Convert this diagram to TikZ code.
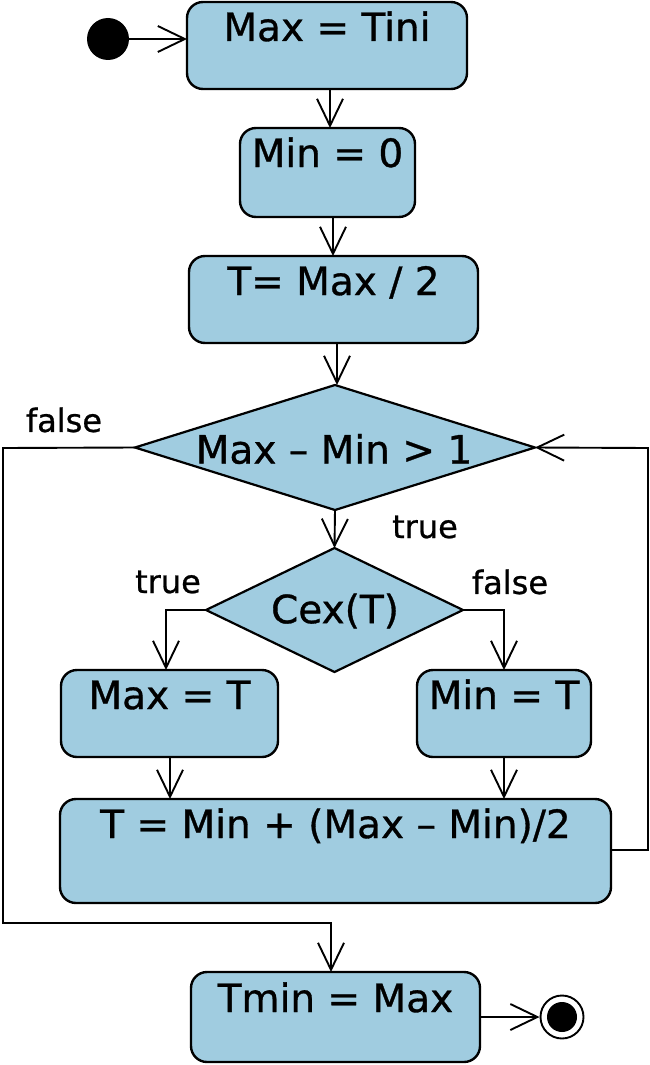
\documentclass[tikz,border=0pt]{standalone}
\usepackage{fontspec}
\setmainfont{DejaVu Sans}
\newfontfamily\diagfont{DejaVu Sans}[FakeBold=0.8]
\usetikzlibrary{arrows.meta,shapes.geometric,calc}
\definecolor{boxblue}{HTML}{A0CCE0}
\begin{document}
\begin{tikzpicture}[x=1pt,y=-1pt,
  actbox/.style={draw=black, line width=2.4pt, fill=boxblue, rounded corners=16pt,
    inner sep=0pt, outer sep=0pt},
  decision/.style={diamond, draw=black, line width=2.2pt, fill=boxblue,
    inner sep=0pt, outer sep=0pt},
  txt/.style={font=\diagfont\fontsize{39}{44}\selectfont, inner sep=0pt},
  lbl/.style={font=\diagfont\fontsize{32}{38}\selectfont, inner sep=0pt},
  arr/.style={line width=1.9pt, -{Straight Barb[length=27pt,width=26pt,line width=1.9pt]}},
]
\fill[white] (0,0) rectangle (650,1065);
\useasboundingbox (0,0) rectangle (650,1065);

% initial and final
\node[circle, fill=black, minimum size=42pt, inner sep=0pt] (start) at (108,39) {};
\node[circle, draw=black, line width=1.9pt, fill=white, minimum size=43pt, inner sep=0pt] (final) at (562,1017) {};
\node[circle, fill=black, minimum size=30pt, inner sep=0pt] (finaldot) at (final.center) {};

% action boxes
\node[actbox, minimum width=280pt, minimum height=87pt] (b1) at (327,45.5) {};
\node[actbox, minimum width=175pt, minimum height=89pt] (b2) at (327.5,172.5) {};
\node[actbox, minimum width=289pt, minimum height=87pt] (b3) at (333.5,299.5) {};
\node[actbox, minimum width=217pt, minimum height=87pt] (b4) at (169.5,713.5) {};
\node[actbox, minimum width=174pt, minimum height=87pt] (b5) at (504,713.5) {};
\node[actbox, minimum width=551pt, minimum height=104pt] (b6) at (335.5,851) {};
\node[actbox, minimum width=289pt, minimum height=90pt] (b7) at (335.5,1017) {};

\node[txt, anchor=base] (t1) at ($(b1.north)+(0,39)$) {Max = Tini};
\node[txt, anchor=base] (t2) at ($(b2.north)+(0,39)$) {Min = 0};
\node[txt, anchor=base] (t3) at ($(b3.north)+(0,39)$) {T= Max / 2};
\node[txt, anchor=base] (t4) at ($(b4.north)+(0,39)$) {Max = T};
\node[txt, anchor=base] (t5) at ($(b5.north)+(0,39)$) {Min = T};
\node[txt, anchor=base] (t6) at ($(b6.north)+(0,39)$) {T = Min + (Max – Min)/2};
\node[txt, anchor=base] (t7) at ($(b7.north)+(0,40)$) {Tmin = Max};

% decisions
\node[decision, minimum width=400pt, minimum height=125pt] (d1) at (335,447.5) {};
\node[txt] (dt1) at (334,449) {Max – Min > 1};
\node[decision, minimum width=257pt, minimum height=124pt] (d2) at (334.5,610) {};
\node[txt] (dt2) at (335,611) {Cex(T)};

% guard labels
\node[lbl] (lfalse1) at (64,420) {false};
\node[lbl] (ltrue1) at (425,527) {true};
\node[lbl] (ltrue2) at (168,582) {true};
\node[lbl] (lfalse2) at (510,582) {false};

% connectors
\draw[arr] (start.east) -- (b1.west |- start.east);
\draw[arr] (b1.south -| 330,0) -- (b2.north -| 330,0);
\draw[arr] (b2.south -| 333,0) -- (b3.north -| 333,0);
\draw[arr] (b3.south -| 337,0) -- (d1.north -| 337,0);
\draw[arr] (d1.south) -- (d2.north);
\draw[arr] (d2.west) -| (b4.north -| 166,0);
\draw[arr] (d2.east) -| (b5.north);
\draw[arr] (b4.south -| 170,0) -- (b6.north -| 170,0);
\draw[arr] (b5.south) -- (b6.north -| b5.south);
\draw[arr] (b6.east |- 0,850) -- (648,850) -- (648,448) -- (d1.east);
\draw[arr] (d1.west) -- (3,448) -- (3,923) -- (331,923) -- (b7.north -| 331,0);
\draw[arr] (b7.east) -- (final.west);
\end{tikzpicture}
\end{document}
